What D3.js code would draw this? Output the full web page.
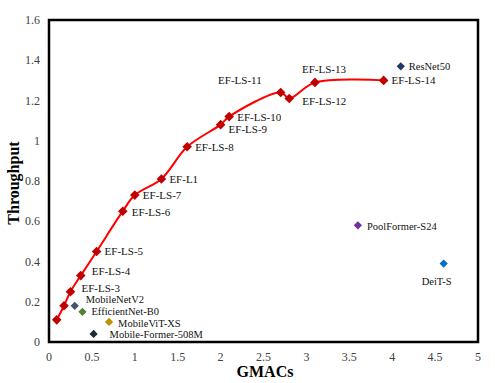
<!DOCTYPE html>
<html><head><meta charset="utf-8">
<script src="https://cdn.jsdelivr.net/npm/d3@7"></script>
<style>body{margin:0;background:#fff} svg text{font-family:"Liberation Serif","Times New Roman",Times,serif;}</style>
</head><body>
<svg id="c" width="495" height="383"></svg>
<script>
const efLabels = ["","","EF-LS-3","EF-LS-4","EF-LS-5","EF-LS-6","EF-LS-7","EF-L1","EF-LS-8","EF-LS-9","EF-LS-10","EF-LS-11","EF-LS-12","EF-LS-13","EF-LS-14"];
const efGmacs = [0.09,0.175,0.25,0.37,0.555,0.86,1.0,1.31,1.61,2.0,2.1,2.7,2.8,3.1,3.9];
const efThroughput = [0.11,0.18,0.25,0.33,0.45,0.65,0.73,0.81,0.97,1.08,1.12,1.24,1.21,1.29,1.30];
// label offsets [dx, dy, anchor]
const efLabelPos = [null,null,[11,-4,"start"],[11,-4,"start"],[8,0,"start"],[9,1,"start"],[8,0,"start"],[8,0,"start"],[8,0,"start"],[8,4,"start"],[8,1,"start"],[-19,-12,"end"],[13,3,"start"],[9,-13,"middle"],[8,0,"start"]];

const otherNames = ["ResNet50","PoolFormer-S24","DeiT-S","MobileNetV2","EfficientNet-B0","MobileViT-XS","Mobile-Former-508M"];
const otherGmacs = [4.1,3.6,4.6,0.3,0.39,0.7,0.52];
const otherThroughput = [1.37,0.58,0.39,0.18,0.15,0.10,0.04];
const otherColors = ["#1f3864","#7030a0","#0070c0","#44546a","#548235","#bf9000","#222a35"];
const otherLabelPos = [[8,0,"start"],[9,1,"start"],[-7,18,"middle"],[11,-6,"start"],[9,0,"start"],[9,1,"start"],[16,0,"start"]];

const xTicks = [0,0.5,1,1.5,2,2.5,3,3.5,4,4.5,5];
const yTicks = [0,0.2,0.4,0.6,0.8,1,1.2,1.4,1.6];

const svg = d3.select("#c");
const L=49, R=478, T=20, B=342;
const x = d3.scaleLinear().domain([0,5]).range([L,R]);
const y = d3.scaleLinear().domain([0,1.6]).range([B,T]);

// tick labels
svg.append("g").selectAll("text").data(yTicks).join("text")
  .attr("x", 40).attr("y", d=>y(d)).attr("dy","0.35em")
  .attr("text-anchor","end").attr("font-size",12).attr("fill","#404040")
  .text(d=>d3.format("")(d));
svg.append("g").selectAll("text").data(xTicks).join("text")
  .attr("x", d=>x(d)).attr("y", 361)
  .attr("text-anchor","middle").attr("font-size",12).attr("fill","#404040")
  .text(d=>d3.format("")(d));

// frame
svg.append("rect").attr("x",L).attr("y",T).attr("width",R-L).attr("height",B-T)
  .attr("fill","none").attr("stroke","#000").attr("stroke-width",2.5);

// axis titles
svg.append("text").attr("x",265).attr("y",377).attr("text-anchor","middle")
  .attr("font-weight","bold").attr("font-size",16).text("GMACs");
svg.append("text").attr("transform","translate(19,183) rotate(-90)").attr("text-anchor","middle")
  .attr("font-weight","bold").attr("font-size",16).text("Throughput");

// EF line
const efData = efGmacs.map((g,i)=>({g, t:efThroughput[i], label:efLabels[i], pos:efLabelPos[i]}));
const line = d3.line().x(d=>x(d.g)).y(d=>y(d.t)).curve(d3.curveCatmullRom.alpha(0.5));
svg.append("path").datum(efData).attr("d",line).attr("fill","none").attr("stroke","#ff0000").attr("stroke-width",2);

svg.append("g").selectAll("path").data(efData).join("path")
  .attr("transform",d=>`translate(${x(d.g)},${y(d.t)}) rotate(45)`)
  .attr("d",d3.symbol().type(d3.symbolSquare).size(46)()).attr("fill","#c00000");
svg.append("g").selectAll("text").data(efData.filter(d=>d.pos)).join("text")
  .attr("x",d=>x(d.g)+d.pos[0]).attr("y",d=>y(d.t)+d.pos[1]).attr("dy","0.35em")
  .attr("text-anchor",d=>d.pos[2]).attr("font-size",11).attr("fill","#111")
  .text(d=>d.label);

// other models
const oData = otherNames.map((n,i)=>({n, g:otherGmacs[i], t:otherThroughput[i], c:otherColors[i], pos:otherLabelPos[i]}));
svg.append("g").selectAll("path").data(oData).join("path")
  .attr("transform",d=>`translate(${x(d.g)},${y(d.t)}) rotate(45)`)
  .attr("d",d3.symbol().type(d3.symbolSquare).size(34)()).attr("fill",d=>d.c);
svg.append("g").selectAll("text").data(oData).join("text")
  .attr("x",d=>x(d.g)+d.pos[0]).attr("y",d=>y(d.t)+d.pos[1]).attr("dy","0.35em")
  .attr("text-anchor",d=>d.pos[2]).attr("font-size",10.5).attr("fill","#111")
  .text(d=>d.n);
</script>
</body></html>
